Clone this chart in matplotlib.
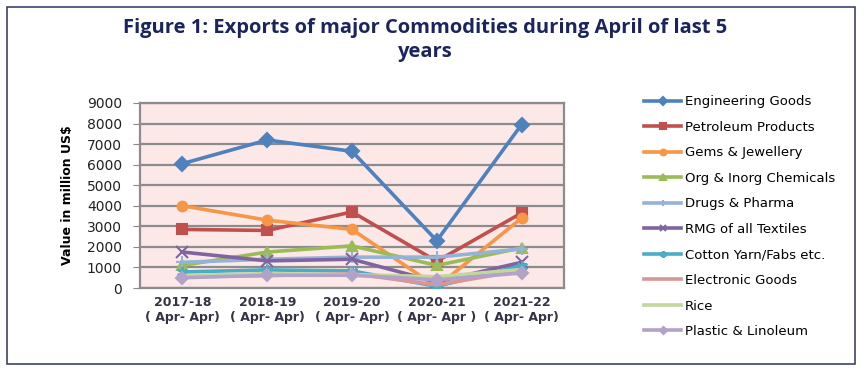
import matplotlib
matplotlib.use("Agg")
import matplotlib.pyplot as plt
from matplotlib.patches import Rectangle

years = ["2017-18\n( Apr- Apr)", "2018-19\n( Apr- Apr)", "2019-20\n( Apr- Apr)",
         "2020-21\n( Apr- Apr )", "2021-22\n( Apr- Apr)"]

engineering = [6050, 7200, 6650, 2300, 7950]
petroleum = [2850, 2800, 3700, 1300, 3650]
gems = [4000, 3300, 2850, 50, 3400]
chemicals = [1100, 1750, 2050, 1100, 1950]
pharma = [1250, 1400, 1500, 1500, 1900]
rmg = [1750, 1320, 1400, 300, 1250]
cotton = [780, 880, 830, 80, 1080]
electronic = [550, 600, 700, 150, 850]
rice = [600, 700, 650, 550, 900]
plastic = [500, 620, 620, 400, 730]

series = [
    ("Engineering Goods", engineering, "#4F81BD", "D", 7),
    ("Petroleum Products", petroleum, "#C0504D", "s", 7),
    ("Gems & Jewellery", gems, "#F79646", "o", 7),
    ("Org & Inorg Chemicals", chemicals, "#9BBB59", "^", 7),
    ("Drugs & Pharma", pharma, "#95B3D7", "+", 8),
    ("RMG of all Textiles", rmg, "#8064A2", "x", 8),
    ("Cotton Yarn/Fabs etc.", cotton, "#4BACC6", (6, 2, 0), 8),
    ("Electronic Goods", electronic, "#D99694", None, 0),
    ("Rice", rice, "#C3D69B", None, 0),
    ("Plastic & Linoleum", plastic, "#B3A2C7", "D", 6),
]

fig = plt.figure(figsize=(8.66, 3.74), dpi=100)
ax = fig.add_axes([140 / 866, 1 - 288 / 374, 424 / 866, 185 / 374])
ax.set_facecolor("#FDE8E8")

x = range(len(years))
for name, vals, color, marker, ms in series:
    ax.plot(x, vals, color=color, lw=2.6, marker=marker, markersize=ms,
            markeredgewidth=1.5, label=name, zorder=3)

ax.set_xlim(-0.5, 4.5)
ax.set_ylim(0, 9000)
ax.set_yticks(range(0, 9001, 1000))
ax.set_yticklabels([str(v) for v in range(0, 9001, 1000)], fontsize=10, color="#222222")
ax.set_xticks(list(x))
ax.set_xticklabels(years, fontsize=9, fontweight="bold", color="#333344")
ax.tick_params(axis="x", length=0, pad=6)
ax.tick_params(axis="y", length=5, direction="out", color="#888888", pad=8)
ax.grid(axis="y", color="#8C8C8C", lw=1.6, zorder=1)
for s in ax.spines.values():
    s.set_color("#8C8C8C")
    s.set_linewidth(1.6)
ax.set_ylabel("Value in million US$", fontsize=9, fontweight="bold", labelpad=9)

fig.legend(loc="upper left", bbox_to_anchor=(639 / 866, 1 - 90 / 374),
           frameon=False, fontsize=9.5, handlelength=2.8, handletextpad=0.3,
           labelspacing=0.95, borderaxespad=0, markerscale=0.6)

fig.text(425 / 866, 1 - 28 / 374, "Figure 1: Exports of major Commodities during April of last 5",
         ha="center", va="center", fontsize=14.5, fontweight="bold", color="#1C2460",
         family="Open Sans")
fig.text(425 / 866, 1 - 52 / 374, "years", ha="center", va="center", fontsize=14.5,
         fontweight="bold", color="#1C2460", family="Open Sans")

fig.patches.append(Rectangle((7 / 866, 1 - 364 / 374), 848 / 866, 357 / 374,
                             transform=fig.transFigure, fill=False,
                             edgecolor="#3C4270", lw=1.2))

fig.savefig("out.png", dpi=100)
